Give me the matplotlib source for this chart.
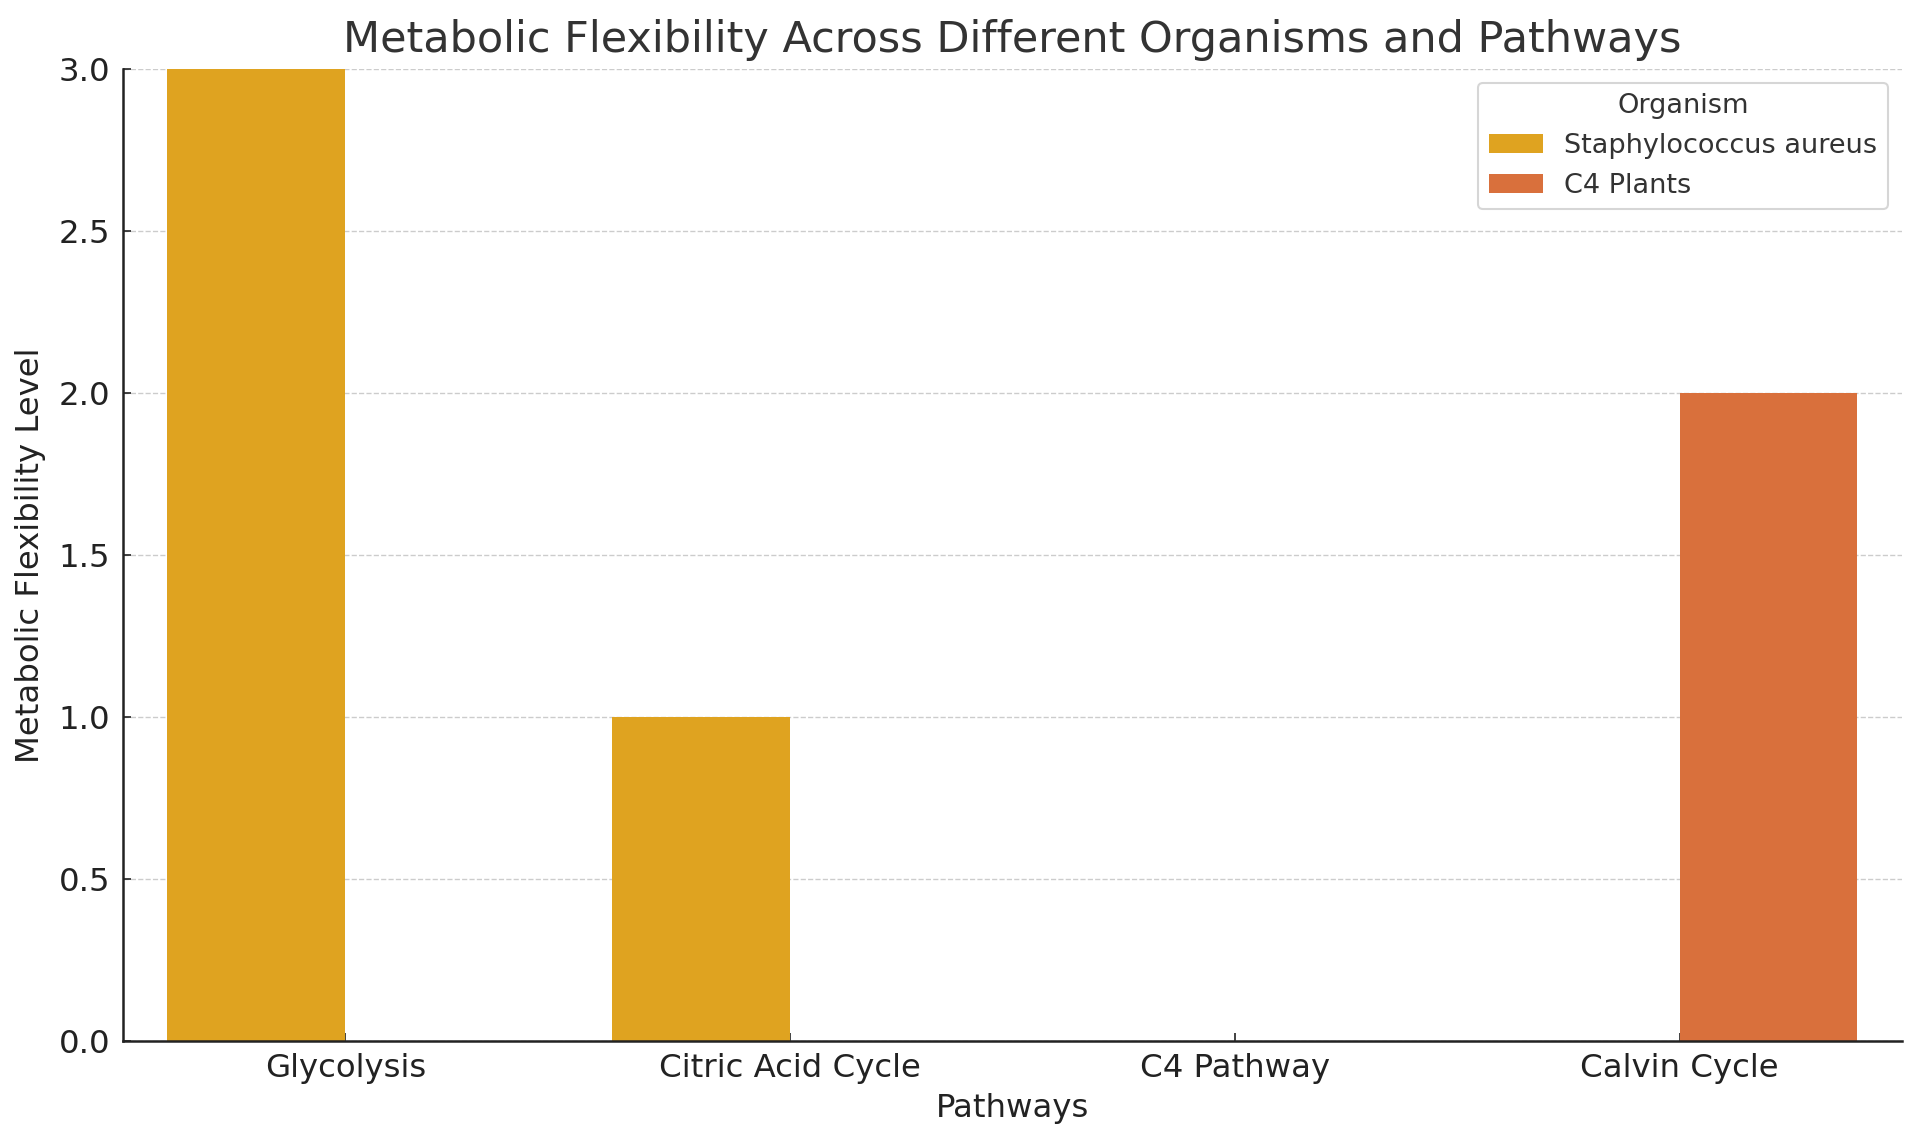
import numpy as np
import matplotlib
matplotlib.use('Agg')
import matplotlib.pyplot as plt

# data
pathways = ['Glycolysis', 'Citric Acid Cycle', 'C4 Pathway', 'Calvin Cycle']
organisms = ['Staphylococcus aureus', 'C4 Plants']
staph_level = [3.0, 1.0, np.nan, np.nan]
c4_level = [np.nan, np.nan, np.nan, 2.0]
colors = ['#DFA320', '#D9703C']

plt.rcParams['font.family'] = 'DejaVu Sans'

fig = plt.figure(figsize=(19.20, 11.45), dpi=100)
ax = fig.add_axes([0.064, 0.091, 0.9266, 0.8487])

x = np.arange(len(pathways))
width = 0.4
series = [staph_level, c4_level]
for i in range(len(organisms)):
    offset = (i - 0.5) * width
    ax.bar(x + offset, series[i], width, color=colors[i], label=organisms[i], zorder=2)

ax.set_xticks(x)
ax.set_xticklabels(pathways)
ax.set_xlim(-0.5, len(pathways) - 0.5)
ax.set_ylim(0, 3.0)
ax.set_yticks([0.0, 0.5, 1.0, 1.5, 2.0, 2.5, 3.0])
ax.set_yticklabels(['%.1f' % v for v in ax.get_yticks()])

ax.grid(axis='y', linestyle='--', color='#cccccc', linewidth=1.0, zorder=0)
ax.set_axisbelow(True)

for s in ['top', 'right']:
    ax.spines[s].set_visible(False)
for s in ['left', 'bottom']:
    ax.spines[s].set_linewidth(1.8)
    ax.spines[s].set_color('#222222')

ax.tick_params(axis='both', direction='in', length=6, width=1.2, colors='#222222',
               labelsize=23.3, pad=9)

ax.set_xlabel('Pathways', fontsize=23.3, color='#222222', labelpad=6)
ax.set_ylabel('Metabolic Flexibility Level', fontsize=23.3, color='#222222', labelpad=9)
ax.set_title('Metabolic Flexibility Across Different Organisms and Pathways',
             fontsize=31, color='#333333', pad=12)

leg = ax.legend(title='Organism', loc='upper right', fontsize=19.5, title_fontsize=19.5,
                frameon=True, borderpad=0.4)
leg.get_frame().set_edgecolor('#cccccc')
leg.get_frame().set_linewidth(1.5)
for t in leg.get_texts():
    t.set_color('#333333')
leg.get_title().set_color('#333333')

plt.savefig('out.png', dpi=100)
plt.close()
